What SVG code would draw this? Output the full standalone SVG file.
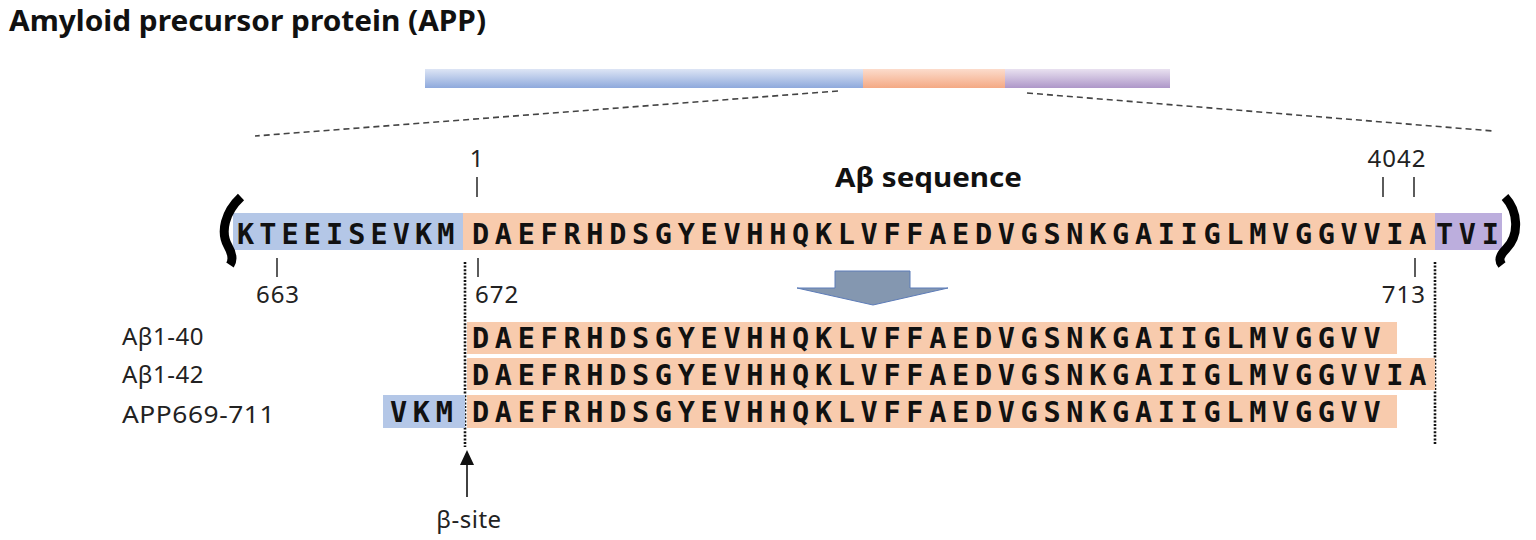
<svg xmlns="http://www.w3.org/2000/svg" width="1536" height="540" viewBox="0 0 1536 540">
<style>
.title{font-family:"Noto Sans","Liberation Sans",sans-serif;font-weight:bold;font-size:28px;fill:#111}
.hd{font-family:"Noto Sans","Liberation Sans",sans-serif;font-weight:bold;font-size:27px;fill:#111}
.seq{font-family:"DejaVu Sans Mono","Liberation Mono",monospace;font-weight:bold;font-size:28.5px;fill:#111;letter-spacing:5.7px}
.num{font-family:"Noto Sans","Liberation Sans",sans-serif;font-size:24px;fill:#222;letter-spacing:1px}
.lbl{font-family:"Noto Sans","Liberation Sans",sans-serif;font-size:24px;fill:#222;letter-spacing:0.5px}
.tick{stroke:#333;stroke-width:1.6}
.dash{stroke:#444;stroke-width:1.6;stroke-dasharray:6 4;fill:none}
.dot{stroke:#111;stroke-width:2.6;stroke-dasharray:2 1.6;fill:none}
.brk{stroke:#000;stroke-width:9;fill:none}
.blue{fill:#b4c7e7}.orange{fill:#f8cbad}.purple{fill:#bcaedd}
</style>
<defs>
<linearGradient id="gB" x1="0" y1="0" x2="0" y2="1"><stop offset="0" stop-color="#dde5f5"/><stop offset="1" stop-color="#8ea9dc"/></linearGradient>
<linearGradient id="gO" x1="0" y1="0" x2="0" y2="1"><stop offset="0" stop-color="#fcdccc"/><stop offset="1" stop-color="#f4a984"/></linearGradient>
<linearGradient id="gP" x1="0" y1="0" x2="0" y2="1"><stop offset="0" stop-color="#e9e1f0"/><stop offset="1" stop-color="#ae97c9"/></linearGradient>
</defs>
<rect width="1536" height="540" fill="#fff"/>

<g id="title"><text class="title" x="9" y="31" textLength="477" lengthAdjust="spacingAndGlyphs">Amyloid precursor protein (APP)</text></g>

<g id="app-bar">
<rect x="425" y="69" width="438" height="19" fill="url(#gB)"/>
<rect x="863" y="69" width="142" height="19" fill="url(#gO)"/>
<rect x="1005" y="69" width="165" height="19" fill="url(#gP)"/>
</g>

<g id="connectors">
<line class="dash" x1="838" y1="91" x2="255" y2="136"/>
<line class="dash" x1="1027" y1="93" x2="1493" y2="131"/>
<line class="tick" x1="477" y1="177" x2="477" y2="197"/>
<line class="tick" x1="1383" y1="177" x2="1383" y2="197"/>
<line class="tick" x1="1414" y1="177" x2="1414" y2="197"/>
<line class="tick" x1="277" y1="258" x2="277" y2="277"/>
<line class="tick" x1="478" y1="258" x2="478" y2="277"/>
<line class="tick" x1="1415" y1="258" x2="1415" y2="277"/>
<line class="dot" x1="465" y1="262" x2="465" y2="447"/>
<line class="dot" x1="1435" y1="262" x2="1435" y2="445"/>
<line x1="467" y1="497" x2="467" y2="462" stroke="#111" stroke-width="1.6"/>
<polygon points="467,450 460,465 474,465" fill="#111"/>
</g>

<g id="seq-header"><text class="hd" x="835" y="187" textLength="187" lengthAdjust="spacingAndGlyphs">Aβ sequence</text></g>

<g id="main-seq">
<rect class="blue" x="233" y="213" width="230" height="37"/>
<rect class="orange" x="463" y="213" width="972" height="37"/>
<rect class="purple" x="1435" y="213" width="67" height="37"/>
<text class="seq" x="237" y="244" style="letter-spacing:5.1px">KTEEISEVKM</text>
<text class="seq" x="472" y="244">DAEFRHDSGYEVHHQKLVFFAEDVGSNKGAIIGLMVGGVVIA</text>
<text class="seq" x="1436" y="244">TVI</text>
<path class="brk" d="M241 197 C225 212,220 232,228 246 C232 253,234 259,230 265"/>
<path class="brk" d="M1505 197 C1518 211,1520 235,1506 249 C1500 255,1498 260,1502 265"/>
</g>

<g id="positions">
<text class="num" x="477" y="167" text-anchor="middle">1</text>
<text class="num" x="1397" y="167" text-anchor="middle">4042</text>
<text class="num" x="278" y="303" text-anchor="middle">663</text>
<text class="num" x="475" y="303">672</text>
<text class="num" x="1426" y="303" text-anchor="end">713</text>
</g>

<g id="down-arrow"><polygon points="835,271 910,271 910,288 948,288 873,305 797,288 835,288" fill="#8497b0" stroke="#5d7cb8" stroke-width="1"/></g>

<g id="row-ab40">
<text class="lbl" x="122" y="345">Aβ1-40</text>
<rect class="orange" x="467" y="322" width="930" height="32"/>
<text class="seq" x="472" y="348">DAEFRHDSGYEVHHQKLVFFAEDVGSNKGAIIGLMVGGVV</text>
</g>
<g id="row-ab42">
<text class="lbl" x="122" y="383">Aβ1-42</text>
<rect class="orange" x="467" y="358" width="968" height="32"/>
<text class="seq" x="472" y="385">DAEFRHDSGYEVHHQKLVFFAEDVGSNKGAIIGLMVGGVVIA</text>
</g>
<g id="row-app669">
<text class="lbl" x="122" y="423" textLength="153" lengthAdjust="spacingAndGlyphs">APP669-711</text>
<rect class="blue" x="383" y="395" width="82" height="33"/>
<rect class="orange" x="467" y="395" width="930" height="33"/>
<text class="seq" x="390" y="422">VKM</text>
<text class="seq" x="472" y="422">DAEFRHDSGYEVHHQKLVFFAEDVGSNKGAIIGLMVGGVV</text>
</g>

<g id="beta-site"><text class="lbl" x="469" y="528" text-anchor="middle">β-site</text></g>
</svg>
